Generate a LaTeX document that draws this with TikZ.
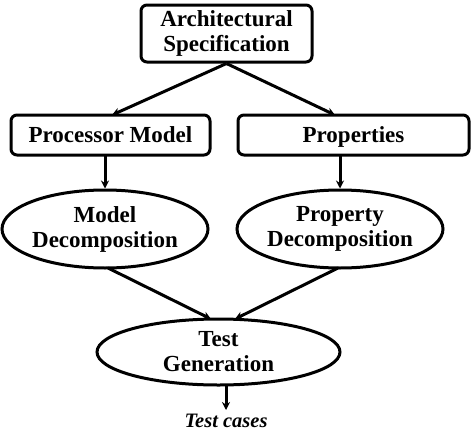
\documentclass[tikz,border=0pt]{standalone}
\usepackage{fontspec}
\setmainfont{Liberation Serif}
\usetikzlibrary{shapes.geometric,arrows.meta}
\begin{document}
\begin{tikzpicture}[x=1pt,y=-1pt,
  lbl/.style={font=\fontsize{23}{25}\selectfont\bfseries, align=center, inner sep=0pt},
  boxnode/.style={lbl, draw, line width=3pt, rounded corners=6pt},
  ellnode/.style={lbl, draw, line width=3pt, ellipse},
  conn/.style={line width=3pt, -{Stealth[length=8pt,width=8pt]}}]
\useasboundingbox (0,0) rectangle (474,434);
\node[boxnode, minimum width=171pt, minimum height=57pt] (arch) at (226.5,33.5) {Architectural\\Specification};
\node[boxnode, minimum width=199pt, minimum height=40pt] (proc) at (110.5,135) {Processor Model};
\node[boxnode, minimum width=231pt, minimum height=40pt, text height=16pt, text depth=2pt] (props) at (353.5,135) {Properties};
\node[ellnode, minimum width=200pt, minimum height=78pt] (md) at (105,229) {Model\\Decomposition};
\node[ellnode, minimum width=200pt, minimum height=78pt] (pd) at (340,229) {Property\\Decomposition};
\node[ellnode, minimum width=243pt, minimum height=66pt] (tg) at (218.5,352) {Test\\Generation};
\node[inner sep=0pt, font=\fontsize{20.5}{22}\selectfont\bfseries\itshape] (tc) at (226,421) {Test cases};
\coordinate (tcend) at (226,410);
\draw[conn] (arch.south) -- (112,115);
\draw[conn] (arch.south) -- (335,115);
\draw[conn] (105,155) -- (md.north);
\draw[conn] (340,155) -- (pd.north);
\draw[conn] (108,268) -- (211,319);
\draw[conn] (338,268) -- (235,319);
\draw[conn] (226,385) -- (tcend);
\end{tikzpicture}
\end{document}
